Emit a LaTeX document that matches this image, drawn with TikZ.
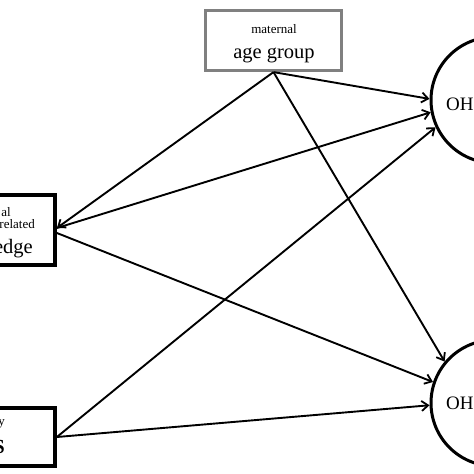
\documentclass[tikz,border=0pt]{standalone}
\usepackage{fontspec}
\setmainfont{Liberation Serif}
\usetikzlibrary{arrows.meta}
\begin{document}
\begin{tikzpicture}[x=1pt,y=-1pt,
  boxstyle/.style={draw=black, line width=3.8pt, minimum width=125pt, inner sep=0pt, fill=white},
  grbox/.style={draw=black!50, line width=3.2pt, minimum width=136pt, minimum height=60pt, inner sep=0pt},
  ohcirc/.style={draw=black, circle, line width=3pt, minimum size=126pt, inner sep=0pt},
  smalltxt/.style={font=\fontsize{13}{15}\selectfont, inner sep=0pt},
  bigtxt/.style={font=\fontsize{20.5}{22}\selectfont, inner sep=0pt},
  ohtxt/.style={font=\fontsize{19}{21}\selectfont, inner sep=0pt, anchor=base west},
  conn/.style={line width=1.9pt, -{Straight Barb[length=6.5pt,width=10pt,line width=1.8pt]}}
]
\useasboundingbox (0,0) rectangle (474,474);
\fill[white] (0,0) rectangle (474,474);

% boxes
\node[grbox] (agebox) at (273.5,40.5) {};
\node[boxstyle, minimum height=70pt] (knowbox) at (-7.5,230) {};
\node[boxstyle, minimum height=58pt] (bbox) at (-7.5,437) {};

% circles
\node[ohcirc] (ohA) at (494,100) {};
\node[ohcirc] (ohB) at (494,403) {};

% texts
\node[smalltxt, anchor=base] (t1) at (274,33) {maternal};
\node[bigtxt, anchor=base] (t2) at (274,58) {age group};
\node[smalltxt, anchor=base east] (t3) at (11,216) {al};
\node[smalltxt, anchor=base east] (t4) at (35,228) {related};
\node[bigtxt, anchor=base east] (t5) at (33,253) {edge};
\node[smalltxt, anchor=base east] (t6) at (5,425) {y};
\node[bigtxt, anchor=base east, font=\fontsize{20}{22}\selectfont\bfseries] (t7) at (5,453) {S};
\node[ohtxt] (oh1) at (446,110) {OH};
\node[ohtxt] (oh2) at (446,409) {OH};

% connectors
\draw[conn] (agebox.south) -- ([yshift=2pt]knowbox.east);
\draw[conn] (agebox.south) -- (ohA.179);
\draw[conn] (agebox.south) -- (ohB.140);
\draw[conn] ([yshift=2pt]knowbox.east) -- (ohA.191);
\draw[conn] ([yshift=-3pt]knowbox.east) -- (ohB.161);
\draw[conn] (bbox.east) -- (ohA.205);
\draw[conn] (bbox.east) -- (ohB.182);
\end{tikzpicture}
\end{document}
